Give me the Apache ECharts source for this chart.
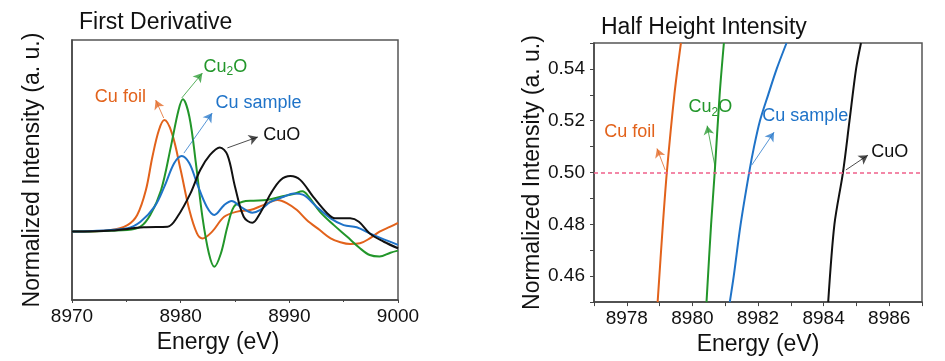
<!DOCTYPE html>
<html>
<head>
<meta charset="utf-8">
<script src="https://cdn.jsdelivr.net/npm/echarts@6/dist/echarts.min.js"></script>
<style>html,body{margin:0;padding:0;background:#fff}#c{width:945px;height:361px}</style>
</head>
<body>
<div id="c"></div>
<script>
// ---------- Left panel: First Derivative (arbitrary units) ----------
var foilE = [8970, 8973.6, 8975.1, 8976.0, 8976.8, 8977.4, 8978.0, 8978.5, 8979.2, 8980.0, 8980.8, 8981.5, 8982.0, 8982.9, 8984.0, 8985.2, 8986.4, 8987.6, 8988.9, 8989.8, 8990.7, 8991.6, 8992.8, 8993.8, 8994.7, 8995.6, 8996.5, 8997.4, 8998.3, 8999.3, 9000];
var foilV = [26.3, 26.9, 28.8, 32.7, 42.3, 55.1, 65.4, 69.2, 64.1, 50, 34.6, 25.6, 23.7, 26.3, 32, 34, 34.6, 36.5, 38.5, 37.2, 34.6, 30.8, 26.9, 23.7, 22.2, 21.5, 21.8, 23.7, 26.3, 28.2, 29.7];

var cu2oE = [8970, 8975.1, 8976.3, 8977.2, 8978.2, 8979.1, 8979.8, 8980.2, 8980.8, 8981.4, 8982.0, 8982.6, 8983.1, 8983.7, 8984.3, 8984.9, 8985.7, 8986.7, 8987.9, 8989.2, 8990.4, 8991.2, 8991.8, 8992.8, 8994.1, 8995.3, 8996.5, 8997.4, 8998.3, 8999.3, 9000];
var cu2oV = [26.3, 26.9, 28.2, 32.7, 42.3, 59, 73, 77.2, 70.5, 52.6, 32, 17.9, 12.8, 17.9, 28.2, 35.9, 37.8, 38.2, 38.5, 39.7, 40.8, 41.8, 39.7, 34, 28.8, 24.4, 19.9, 17.3, 16.7, 18.2, 19];

var sampleE = [8970, 8975.1, 8976.3, 8977.6, 8978.5, 8979.4, 8980.1, 8980.8, 8981.5, 8982.4, 8983.1, 8984.0, 8984.7, 8985.5, 8986.6, 8987.3, 8988.3, 8989.5, 8990.4, 8991.3, 8992.5, 8993.8, 8995.0, 8996.2, 8997.4, 8998.7, 9000];
var sampleV = [26.3, 27.6, 30.1, 35.9, 43.6, 52.6, 55.4, 52.6, 44.9, 35.9, 32.7, 36.5, 38.1, 35.9, 33.6, 34.6, 37.8, 39.7, 41, 40.4, 35.9, 31.4, 28.8, 28, 25.6, 23.3, 21.2];

var cuoE = [8970, 8973.6, 8976.6, 8978.8, 8979.7, 8980.9, 8981.8, 8982.7, 8983.6, 8984.3, 8985.0, 8985.8, 8986.6, 8987.3, 8988.3, 8989.2, 8990.1, 8991.0, 8992.2, 8993.5, 8994.2, 8995.6, 8996.4, 8997.4, 8998.7, 9000];
var cuoV = [26.3, 26.7, 28, 28.2, 32, 41, 50, 55.8, 58.7, 55.8, 43.6, 32, 29.7, 33.3, 41, 46.2, 47.7, 46.2, 39.7, 33.3, 31.4, 31.4, 30.1, 25.6, 22.4, 19.9];

var leftTicks = [8970, 8980, 8990, 9000];

// ---------- Right panel: Half Height Intensity ----------
var hFoilE = [8978.94, 8979.1, 8979.22, 8979.45, 8979.65];
var hFoilV = [0.45, 0.48, 0.50, 0.53, 0.55];
var hCu2oE = [8980.43, 8980.57, 8980.68, 8980.83, 8980.96];
var hCu2oV = [0.45, 0.48, 0.50, 0.53, 0.55];
var hSampleE = [8981.14, 8981.26, 8981.47, 8981.73, 8981.88, 8982.06, 8982.31, 8982.57, 8982.87];
var hSampleV = [0.45, 0.46, 0.48, 0.50, 0.51, 0.52, 0.53, 0.54, 0.55];
var hCuoE = [8984.14, 8984.33, 8984.59, 8984.79, 8984.99, 8985.14];
var hCuoV = [0.45, 0.48, 0.50, 0.52, 0.54, 0.55];
var halfLevel = 0.50;
var rightXTicks = [8978, 8980, 8982, 8984, 8986];
var rightYTicks = [0.46, 0.48, 0.50, 0.52, 0.54];

var names = ['Cu foil', 'Cu2O', 'Cu sample', 'CuO'];
var colors = ['#e2621b', '#22962a', '#1f73c8', '#111111'];

function zip(a, b) { return a.map(function (x, i) { return [x, b[i]]; }); }

var FONT = 'Liberation Sans, Arial, sans-serif';

function labelRich(name) {
  return name === 'Cu2O' ? 'Cu{s|2}O' : name;
}
function mkAnno(idx, from, to, txtPos, side) {
  var col = colors[idx];
  return {
    markLine: {
      silent: true, animation: false,
      symbol: ['none', 'arrow'], symbolSize: [8, 9],
      lineStyle: { color: col, type: 'solid', width: 1, opacity: 0.75 },
      label: { show: false },
      data: [[{ coord: from }, { coord: to }]]
    },
    markPoint: {
      silent: true, animation: false,
      symbol: 'circle', symbolSize: 0,
      data: [{
        coord: txtPos,
        label: {
          show: true, position: side, distance: 0,
          formatter: labelRich(names[idx]),
          color: col, fontSize: 18, fontFamily: FONT,
          rich: { s: { fontSize: 12, color: col, fontFamily: FONT, padding: [10, 0, 0, 0] } }
        }
      }]
    }
  };
}

function lineSeries(idx, xi, yi, data, smooth, anno) {
  var s = {
    type: 'line', name: names[idx], xAxisIndex: xi, yAxisIndex: yi,
    data: data, showSymbol: false, smooth: smooth, animation: false,
    lineStyle: { color: colors[idx], width: 2 }, itemStyle: { color: colors[idx] }, z: 3
  };
  if (anno) { s.markLine = anno.markLine; s.markPoint = anno.markPoint; }
  return s;
}

var leftAnno = [
  mkAnno(0, [8978.44, 70], [8977.7, 76.9], [8976.8, 78], 'left'),
  mkAnno(1, [8980.1, 77.7], [8982.0, 87.3], [8982.1, 89.6], 'right'),
  mkAnno(2, [8980.3, 56.5], [8982.9, 71.9], [8983.2, 75.8], 'right'),
  mkAnno(3, [8984.3, 58.5], [8987.1, 62.7], [8987.6, 63.5], 'right')
];
var rightAnno = [
  mkAnno(0, [8979.17, 0.501], [8978.92, 0.5093], [8978.87, 0.5157], 'left'),
  mkAnno(1, [8980.70, 0.5016], [8980.45, 0.5181], [8979.88, 0.5251], 'right'),
  mkAnno(2, [8981.81, 0.5029], [8982.49, 0.5156], [8982.13, 0.5219], 'right'),
  mkAnno(3, [8984.68, 0.501], [8985.35, 0.5067], [8985.45, 0.508], 'right')
];

var axisLine = { show: true, lineStyle: { color: '#444', width: 1.5 } };
var nameStyle = { fontSize: 23, color: '#111', fontFamily: FONT };
var labStyle = { fontSize: 19, color: '#111', fontFamily: FONT };

var option = {
  backgroundColor: '#fff',
  animation: false,
  title: [
    { text: 'First Derivative', left: 74, top: 6, textStyle: { fontSize: 23, fontWeight: 'normal', color: '#111', fontFamily: FONT } },
    { text: 'Half Height Intensity', left: 596, top: 11, textStyle: { fontSize: 23, fontWeight: 'normal', color: '#111', fontFamily: FONT } }
  ],
  grid: [
    { left: 72, right: 547, top: 40, bottom: 61, show: true, borderColor: '#555', borderWidth: 1.5, backgroundColor: 'transparent' },
    { left: 594, right: 23, top: 43, bottom: 56, show: true, borderColor: '#555', borderWidth: 1.5, backgroundColor: 'transparent' }
  ],
  xAxis: [
    {
      type: 'value', gridIndex: 0, min: 8970, max: 9000, interval: 10,
      name: 'Energy (eV)', nameLocation: 'middle', nameGap: 23,
      nameTextStyle: Object.assign({ padding: [0, 34, 0, 0] }, nameStyle),
      axisLine: axisLine, splitLine: { show: false },
      axisTick: { show: true, inside: false, length: 3, lineStyle: { color: '#444' } },
      minorTick: { show: true, splitNumber: 2, length: 2, lineStyle: { color: '#444' } },
      axisLabel: Object.assign({ margin: 7, formatter: function (v) { return leftTicks.indexOf(v) >= 0 ? String(v) : ''; } }, labStyle)
    },
    {
      type: 'value', gridIndex: 1, min: 8977, max: 8987, interval: 1,
      name: 'Energy (eV)', nameLocation: 'middle', nameGap: 30, nameTextStyle: nameStyle,
      axisLine: axisLine, splitLine: { show: false },
      axisTick: { show: true, length: 4, lineStyle: { color: '#444' } },
      axisLabel: Object.assign({ margin: 7, formatter: function (v) { return rightXTicks.indexOf(Math.round(v)) >= 0 && Math.abs(v - Math.round(v)) < 1e-6 ? String(Math.round(v)) : ''; } }, labStyle)
    }
  ],
  yAxis: [
    {
      type: 'value', gridIndex: 0, min: 0, max: 100,
      name: 'Normalized Intensity (a. u.)', nameLocation: 'middle', nameGap: 28, nameRotate: 90, nameTextStyle: nameStyle,
      axisLine: axisLine, splitLine: { show: false }, axisTick: { show: false }, axisLabel: { show: false }
    },
    {
      type: 'value', gridIndex: 1, min: 0.45, max: 0.55, interval: 0.01,
      name: 'Normalized Intensity (a. u.)', nameLocation: 'middle', nameGap: 50, nameRotate: 90, nameTextStyle: nameStyle,
      axisLine: axisLine, splitLine: { show: false },
      axisTick: { show: true, length: 4, lineStyle: { color: '#444' } },
      axisLabel: Object.assign({ margin: 9, formatter: function (v) {
        var r = Math.round(v * 100) / 100;
        for (var i = 0; i < rightYTicks.length; i++) { if (Math.abs(rightYTicks[i] - r) < 1e-6 && Math.abs(v - r) < 1e-6) return r.toFixed(2); }
        return '';
      } }, labStyle)
    }
  ],
  series: [
    lineSeries(0, 0, 0, zip(foilE, foilV), 0.35, leftAnno[0]),
    lineSeries(1, 0, 0, zip(cu2oE, cu2oV), 0.35, leftAnno[1]),
    lineSeries(2, 0, 0, zip(sampleE, sampleV), 0.35, leftAnno[2]),
    lineSeries(3, 0, 0, zip(cuoE, cuoV), 0.35, leftAnno[3]),
    {
      type: 'line', xAxisIndex: 1, yAxisIndex: 1, data: [], animation: false,
      markLine: {
        silent: true, symbol: ['none', 'none'], animation: false,
        lineStyle: { color: '#f0608a', type: [4, 3], width: 1.5 },
        label: { show: false },
        data: [{ yAxis: halfLevel }]
      }
    },
    lineSeries(0, 1, 1, zip(hFoilE, hFoilV), 0.3, rightAnno[0]),
    lineSeries(1, 1, 1, zip(hCu2oE, hCu2oV), 0.3, rightAnno[1]),
    lineSeries(2, 1, 1, zip(hSampleE, hSampleV), 0.3, rightAnno[2]),
    lineSeries(3, 1, 1, zip(hCuoE, hCuoV), 0.3, rightAnno[3])
  ]
};

var chart = echarts.init(document.getElementById('c'), null, { renderer: 'canvas' });
chart.setOption(option);
</script>
</body>
</html>
